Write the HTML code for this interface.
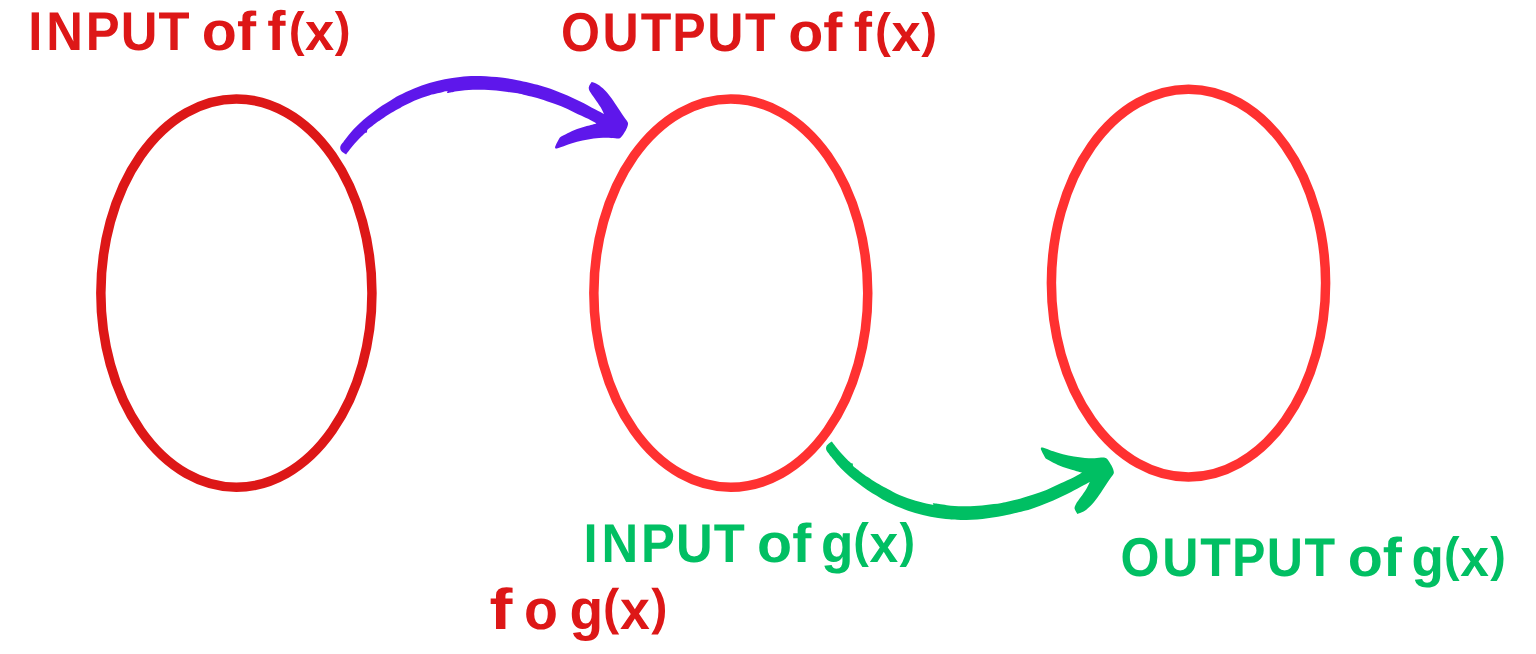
<!DOCTYPE html>
<html lang="en">
<head>
<meta charset="utf-8">
<title>Composition of functions diagram</title>
<style>
html,body{margin:0;padding:0;background:#ffffff;}
body{width:1536px;height:654px;overflow:hidden;}
svg{display:block;will-change:transform;}
svg text{font-family:"Liberation Sans",sans-serif;font-weight:700;text-rendering:geometricPrecision;}
</style>
</head>
<body>
<svg width="1536" height="654" viewBox="0 0 1536 654">
<rect width="1536" height="654" fill="#ffffff"/>
<ellipse cx="236.4" cy="293.1" rx="135.55" ry="194.15" fill="none" stroke="#DD1717" stroke-width="9.5"/>
<ellipse cx="730.8" cy="293.1" rx="136.95" ry="194.15" fill="none" stroke="#FF3131" stroke-width="9.5"/>
<ellipse cx="1188.5" cy="283.1" rx="137.10" ry="193.95" fill="none" stroke="#FF3131" stroke-width="9.5"/>
<path d="M346.10 154.50C345.72 154.27 344.65 153.77 343.80 153.10C342.95 152.43 341.60 151.40 341.00 150.50C340.40 149.60 340.20 148.62 340.20 147.70C340.20 146.78 340.55 145.85 341.00 145.00C341.45 144.15 342.20 143.53 342.90 142.60C343.60 141.67 343.30 141.75 345.20 139.40C347.10 137.05 351.25 131.77 354.30 128.50C357.35 125.23 360.43 122.48 363.50 119.80C366.57 117.12 369.63 114.73 372.70 112.40C375.77 110.07 378.85 107.83 381.90 105.80C384.95 103.77 388.18 101.92 391.00 100.20C393.82 98.48 394.95 97.47 398.80 95.50C402.65 93.53 409.00 90.48 414.10 88.40C419.20 86.32 424.30 84.53 429.40 83.00C434.50 81.47 439.60 80.22 444.70 79.20C449.80 78.18 454.82 77.43 460.00 76.90C465.18 76.37 469.68 75.97 475.80 76.00C481.92 76.03 489.75 76.40 496.70 77.10C503.65 77.80 510.28 78.82 517.50 80.20C524.72 81.58 533.96 83.78 540.00 85.40C546.04 87.02 549.17 88.23 553.75 89.90C558.33 91.57 562.91 93.40 567.50 95.40C572.09 97.40 576.72 99.60 581.30 101.90C585.88 104.20 591.22 107.18 595.00 109.20C598.78 111.22 602.50 113.20 604.00 114.00C603.42 112.85 602.00 109.62 600.50 107.10C599.00 104.58 596.72 101.42 595.00 98.90C593.28 96.38 591.23 93.95 590.20 92.00C589.17 90.05 588.57 88.85 588.80 87.20C589.03 85.55 591.13 82.95 591.60 82.10C592.63 82.48 595.63 83.10 597.80 84.40C599.97 85.70 602.32 87.60 604.60 89.90C606.88 92.20 609.20 95.10 611.50 98.20C613.80 101.30 616.33 105.40 618.40 108.50C620.47 111.60 622.42 114.62 623.90 116.80C625.38 118.98 626.62 120.35 627.30 121.60C627.98 122.85 628.15 123.05 628.00 124.30C627.85 125.55 627.20 127.38 626.40 129.10C625.60 130.82 624.18 133.17 623.20 134.60C622.22 136.03 621.53 137.05 620.50 137.70C619.47 138.35 618.95 138.48 617.00 138.50C615.05 138.52 611.78 137.87 608.80 137.80C605.82 137.73 602.55 137.82 599.10 138.10C595.65 138.38 591.77 138.88 588.10 139.50C584.43 140.12 580.53 140.93 577.10 141.80C573.67 142.67 570.25 143.78 567.50 144.70C564.75 145.62 562.55 146.62 560.60 147.30C558.65 147.98 556.60 148.55 555.80 148.80L554.90 147.30C555.28 146.45 556.37 143.85 557.20 142.20C558.03 140.55 559.45 138.20 559.90 137.40C561.17 136.72 564.63 134.68 567.50 133.30C570.37 131.92 573.88 130.30 577.10 129.10C580.32 127.90 583.58 127.05 586.80 126.10C590.02 125.15 594.80 123.85 596.40 123.40C595.02 122.63 591.77 120.63 588.10 118.80C584.43 116.97 578.98 114.53 574.40 112.40C569.82 110.27 565.18 107.87 560.60 106.00C556.02 104.13 551.30 102.65 546.90 101.20C542.50 99.75 538.08 98.38 534.20 97.30C530.32 96.22 526.67 95.40 523.60 94.70C520.53 94.00 518.41 93.57 515.80 93.10C513.19 92.63 510.57 92.27 507.95 91.90C505.33 91.53 502.71 91.18 500.10 90.90C497.49 90.62 494.90 90.38 492.30 90.20C489.70 90.02 487.10 89.88 484.50 89.80C481.90 89.72 479.30 89.72 476.70 89.75C474.10 89.78 471.50 89.83 468.90 90.00C466.30 90.17 463.70 90.48 461.10 90.80C458.50 91.12 455.15 91.63 453.30 91.90C451.45 92.17 451.05 92.20 450.00 92.40C448.95 92.60 447.50 92.98 447.00 93.10L447.60 91.00C446.83 91.15 444.70 91.52 443.00 91.90C441.30 92.28 439.60 92.75 437.40 93.30C435.20 93.85 432.37 94.47 429.80 95.20C427.23 95.93 424.60 96.78 422.00 97.70C419.40 98.62 416.78 99.55 414.20 100.70C411.62 101.85 408.83 103.40 406.50 104.60C404.17 105.80 402.78 106.52 400.20 107.90C397.62 109.28 394.05 111.07 391.00 112.90C387.95 114.73 384.18 117.37 381.90 118.90C379.62 120.43 379.13 120.73 377.30 122.10C375.47 123.47 372.50 125.87 370.90 127.10C369.30 128.33 368.23 129.10 367.70 129.50L367.10 130.40L367.00 132.50L365.60 132.70C365.25 132.98 364.62 133.35 363.50 134.40C362.38 135.45 360.43 137.40 358.90 139.00C357.37 140.60 355.82 142.25 354.30 144.00C352.78 145.75 351.17 147.75 349.80 149.50C348.43 151.25 346.72 153.67 346.10 154.50Z" fill="#5E17EB"/>
<path d="M831.90 441.50C831.52 441.73 830.45 442.23 829.60 442.90C828.75 443.57 827.40 444.60 826.80 445.50C826.20 446.40 826.00 447.38 826.00 448.30C826.00 449.22 826.35 450.15 826.80 451.00C827.25 451.85 828.00 452.47 828.70 453.40C829.40 454.33 829.10 454.25 831.00 456.60C832.90 458.95 837.05 464.23 840.10 467.50C843.15 470.77 846.23 473.52 849.30 476.20C852.37 478.88 855.43 481.27 858.50 483.60C861.57 485.93 864.65 488.17 867.70 490.20C870.75 492.23 873.98 494.08 876.80 495.80C879.62 497.52 880.75 498.53 884.60 500.50C888.45 502.47 894.80 505.52 899.90 507.60C905.00 509.68 910.10 511.47 915.20 513.00C920.30 514.53 925.40 515.78 930.50 516.80C935.60 517.82 940.62 518.57 945.80 519.10C950.98 519.63 955.48 520.03 961.60 520.00C967.72 519.97 975.55 519.60 982.50 518.90C989.45 518.20 996.08 517.18 1003.30 515.80C1010.52 514.42 1019.76 512.22 1025.80 510.60C1031.84 508.98 1034.97 507.77 1039.55 506.10C1044.13 504.43 1048.71 502.60 1053.30 500.60C1057.89 498.60 1062.52 496.40 1067.10 494.10C1071.68 491.80 1077.02 488.82 1080.80 486.80C1084.58 484.78 1088.30 482.80 1089.80 482.00C1089.22 483.15 1087.80 486.38 1086.30 488.90C1084.80 491.42 1082.52 494.58 1080.80 497.10C1079.08 499.62 1077.03 502.05 1076.00 504.00C1074.97 505.95 1074.37 507.15 1074.60 508.80C1074.83 510.45 1076.93 513.05 1077.40 513.90C1078.43 513.52 1081.43 512.90 1083.60 511.60C1085.77 510.30 1088.12 508.40 1090.40 506.10C1092.68 503.80 1095.00 500.90 1097.30 497.80C1099.60 494.70 1102.13 490.60 1104.20 487.50C1106.27 484.40 1108.22 481.38 1109.70 479.20C1111.18 477.02 1112.42 475.65 1113.10 474.40C1113.78 473.15 1113.95 472.95 1113.80 471.70C1113.65 470.45 1113.00 468.62 1112.20 466.90C1111.40 465.18 1109.98 462.83 1109.00 461.40C1108.02 459.97 1107.33 458.95 1106.30 458.30C1105.27 457.65 1104.75 457.52 1102.80 457.50C1100.85 457.48 1097.58 458.13 1094.60 458.20C1091.62 458.27 1088.35 458.18 1084.90 457.90C1081.45 457.62 1077.57 457.12 1073.90 456.50C1070.23 455.88 1066.33 455.07 1062.90 454.20C1059.47 453.33 1056.05 452.22 1053.30 451.30C1050.55 450.38 1048.35 449.38 1046.40 448.70C1044.45 448.02 1042.40 447.45 1041.60 447.20L1040.70 448.70C1041.08 449.55 1042.17 452.15 1043.00 453.80C1043.83 455.45 1045.25 457.80 1045.70 458.60C1046.97 459.28 1050.43 461.32 1053.30 462.70C1056.17 464.08 1059.68 465.70 1062.90 466.90C1066.12 468.10 1069.38 468.95 1072.60 469.90C1075.82 470.85 1080.60 472.15 1082.20 472.60C1080.82 473.37 1077.57 475.37 1073.90 477.20C1070.23 479.03 1064.78 481.47 1060.20 483.60C1055.62 485.73 1050.98 488.13 1046.40 490.00C1041.82 491.87 1037.10 493.35 1032.70 494.80C1028.30 496.25 1023.88 497.62 1020.00 498.70C1016.12 499.78 1012.47 500.60 1009.40 501.30C1006.33 502.00 1004.21 502.43 1001.60 502.90C998.99 503.37 996.37 503.73 993.75 504.10C991.13 504.47 988.51 504.82 985.90 505.10C983.29 505.38 980.70 505.62 978.10 505.80C975.50 505.98 972.90 506.12 970.30 506.20C967.70 506.27 965.10 506.28 962.50 506.25C959.90 506.22 957.30 506.18 954.70 506.00C952.10 505.82 949.50 505.52 946.90 505.20C944.30 504.88 940.95 504.37 939.10 504.10C937.25 503.83 936.85 503.80 935.80 503.60C934.75 503.40 933.30 503.02 932.80 502.90L933.40 505.00C932.63 504.85 930.50 504.48 928.80 504.10C927.10 503.72 925.40 503.25 923.20 502.70C921.00 502.15 918.17 501.53 915.60 500.80C913.03 500.07 910.40 499.22 907.80 498.30C905.20 497.38 902.58 496.45 900.00 495.30C897.42 494.15 894.63 492.60 892.30 491.40C889.97 490.20 888.58 489.48 886.00 488.10C883.42 486.72 879.85 484.93 876.80 483.10C873.75 481.27 869.98 478.63 867.70 477.10C865.42 475.57 864.93 475.27 863.10 473.90C861.27 472.53 858.30 470.13 856.70 468.90C855.10 467.67 854.03 466.90 853.50 466.50L852.90 465.60L852.80 463.50L851.40 463.30C851.05 463.02 850.42 462.65 849.30 461.60C848.18 460.55 846.23 458.60 844.70 457.00C843.17 455.40 841.62 453.75 840.10 452.00C838.58 450.25 836.97 448.25 835.60 446.50C834.23 444.75 832.52 442.33 831.90 441.50Z" fill="#00BF63"/>
<g opacity="0.999">
<g aria-label="INPUT of f(x)"><text transform="scale(0.9301 1)" font-size="54.65" fill="#DD1717" x="30.43 49.76 92.32 129.85 170.42" y="50.40">INPUT</text> <text transform="scale(1.0498 1)" font-size="54.65" fill="#DD1717" x="192.28 225.74" y="50.40">of</text> <text transform="scale(0.9872 1)" font-size="55.47" fill="#DD1717" x="270.68" y="50.40">f<tspan x="292.40" y="45.94" font-size="48.22">(</tspan><tspan x="309.03" y="50.40" font-size="53.12">x</tspan><tspan x="339.16" y="45.94" font-size="48.22">)</tspan></text></g>
<g aria-label="OUTPUT of f(x)"><text transform="scale(0.9168 1)" font-size="54.65" fill="#DD1717" x="611.87 657.29 698.91 733.33 771.44 812.57" y="51.20">OUTPUT</text> <text transform="scale(1.0498 1)" font-size="54.65" fill="#DD1717" x="750.86 784.31" y="51.20">of</text> <text transform="scale(0.9872 1)" font-size="55.47" fill="#DD1717" x="864.73" y="51.20">f<tspan x="886.45" y="46.74" font-size="48.22">(</tspan><tspan x="903.09" y="51.20" font-size="53.12">x</tspan><tspan x="933.21" y="46.74" font-size="48.22">)</tspan></text></g>
<g aria-label="INPUT of g(x)"><text transform="scale(0.9301 1)" font-size="54.65" fill="#00BF63" x="627.37 646.71 689.27 726.80 767.36" y="561.90">INPUT</text> <text transform="scale(1.0498 1)" font-size="54.65" fill="#00BF63" x="721.14 754.59" y="561.90">of</text> <text transform="scale(0.9707 1)" font-size="54.65" fill="#00BF63" x="845.74" y="561.90">g<tspan x="879.06" y="557.44" font-size="48.22">(</tspan><tspan x="895.86" y="561.90" font-size="53.12">x</tspan><tspan x="926.78" y="557.44" font-size="48.22">)</tspan></text></g>
<g aria-label="OUTPUT of g(x)"><text transform="scale(0.9168 1)" font-size="54.65" fill="#00BF63" x="1222.28 1267.70 1309.31 1343.74 1381.85 1422.97" y="575.60">OUTPUT</text> <text transform="scale(1.0498 1)" font-size="54.65" fill="#00BF63" x="1283.71 1317.17" y="575.60">of</text> <text transform="scale(0.9707 1)" font-size="54.65" fill="#00BF63" x="1454.21" y="575.60">g<tspan x="1487.53" y="571.14" font-size="48.22">(</tspan><tspan x="1504.33" y="575.60" font-size="53.12">x</tspan><tspan x="1535.25" y="571.14" font-size="48.22">)</tspan></text></g>
<g aria-label="f o g(x)"><text transform="scale(1.1938 1)" font-size="57.69" fill="#DD1717" x="410.04" y="628.90">f</text> <text transform="scale(0.9776 1)" font-size="56.84" fill="#DD1717" x="536.05" y="628.90">o</text> <text transform="scale(0.9707 1)" font-size="56.84" fill="#DD1717" x="586.68" y="628.90">g<tspan x="621.33" y="624.26" font-size="50.15">(</tspan><tspan x="638.80" y="628.90" font-size="55.24">x</tspan><tspan x="670.96" y="624.26" font-size="50.15">)</tspan></text></g>
</g>
</svg>
</body>
</html>
